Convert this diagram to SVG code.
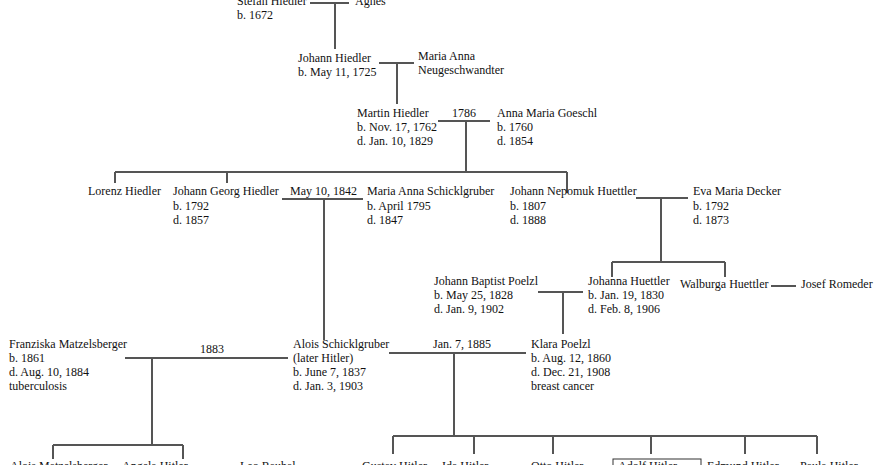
<svg xmlns="http://www.w3.org/2000/svg" width="887" height="465" viewBox="0 0 887 465">
<style>
text{font-family:"Liberation Serif","Times New Roman",serif;font-size:12px;fill:#111}
.c line{stroke:#555;stroke-width:2;fill:none}
.mid{text-anchor:middle}
</style>
<rect width="887" height="465" fill="#fff"/>
<g class="c" id="connectors">
<line x1="310" y1="3" x2="349" y2="3"/><line x1="335" y1="3" x2="335" y2="49"/>
<line x1="379" y1="63" x2="414" y2="63"/><line x1="397" y1="63" x2="397" y2="104"/>
<line x1="438" y1="121" x2="490" y2="121"/><line x1="466" y1="121" x2="466" y2="172"/>
<line x1="115" y1="172" x2="567" y2="172"/>
<line x1="115" y1="172" x2="115" y2="183"/><line x1="227" y1="172" x2="227" y2="183"/><line x1="567" y1="172" x2="567" y2="193"/>
<line x1="282" y1="199" x2="363" y2="199"/><line x1="324" y1="199" x2="324" y2="340"/>
<line x1="636" y1="198" x2="688" y2="198"/><line x1="661" y1="198" x2="661" y2="262"/>
<line x1="612" y1="262" x2="725" y2="262"/><line x1="612" y1="262" x2="612" y2="277"/><line x1="725" y1="262" x2="725" y2="277"/>
<line x1="771" y1="286" x2="796" y2="286"/>
<line x1="538" y1="292" x2="583" y2="292"/><line x1="563" y1="292" x2="563" y2="334"/>
<line x1="125" y1="358" x2="288" y2="358"/><line x1="152" y1="358" x2="152" y2="445"/>
<line x1="53" y1="445" x2="183" y2="445"/><line x1="53" y1="445" x2="53" y2="459"/><line x1="183" y1="445" x2="183" y2="459"/>
<line x1="389" y1="353" x2="526" y2="353"/><line x1="454" y1="353" x2="454" y2="436"/>
<line x1="393" y1="436" x2="817" y2="436"/>
<line x1="393" y1="436" x2="393" y2="454"/><line x1="474" y1="436" x2="474" y2="454"/><line x1="553" y1="436" x2="553" y2="454"/><line x1="651" y1="436" x2="651" y2="454"/><line x1="745" y1="436" x2="745" y2="454"/><line x1="817" y1="436" x2="817" y2="454"/>
</g>
<g id="labels">
<text x="464" y="117" class="mid">1786</text>
<text x="290" y="195">May 10, 1842</text>
<text x="212" y="353" class="mid">1883</text>
<text x="433" y="348">Jan. 7, 1885</text>
</g>
<g id="stefan"><text x="237" y="5">Stefan Hiedler</text><text x="237" y="19">b. 1672</text></g>
<g id="agnes"><text x="355" y="5">Agnes</text></g>
<g id="johann-hiedler"><text x="298" y="62">Johann Hiedler</text><text x="298" y="76">b. May 11, 1725</text></g>
<g id="maria-anna-n"><text x="418" y="60">Maria Anna</text><text x="418" y="74">Neugeschwandter</text></g>
<g id="martin"><text x="357" y="117">Martin Hiedler</text><text x="357" y="131">b. Nov. 17, 1762</text><text x="357" y="145">d. Jan. 10, 1829</text></g>
<g id="anna-maria"><text x="497" y="117">Anna Maria Goeschl</text><text x="497" y="131">b. 1760</text><text x="497" y="145">d. 1854</text></g>
<g id="lorenz"><text x="88" y="195">Lorenz Hiedler</text></g>
<g id="johann-georg"><text x="173" y="195">Johann Georg Hiedler</text><text x="173" y="210">b. 1792</text><text x="173" y="224">d. 1857</text></g>
<g id="maria-anna-s"><text x="367" y="195">Maria Anna Schicklgruber</text><text x="367" y="210">b. April 1795</text><text x="367" y="224">d. 1847</text></g>
<g id="nepomuk"><text x="510" y="195">Johann Nepomuk Huettler</text><text x="510" y="210">b. 1807</text><text x="510" y="224">d. 1888</text></g>
<g id="eva"><text x="693" y="195">Eva Maria Decker</text><text x="693" y="210">b. 1792</text><text x="693" y="224">d. 1873</text></g>
<g id="baptist"><text x="434" y="285">Johann Baptist Poelzl</text><text x="434" y="299">b. May 25, 1828</text><text x="434" y="313">d. Jan. 9, 1902</text></g>
<g id="johanna"><text x="588" y="285">Johanna Huettler</text><text x="588" y="299">b. Jan. 19, 1830</text><text x="588" y="313">d. Feb. 8, 1906</text></g>
<g id="walburga"><text x="680" y="288">Walburga Huettler</text></g>
<g id="josef"><text x="801" y="288">Josef Romeder</text></g>
<g id="franziska"><text x="9" y="348">Franziska Matzelsberger</text><text x="9" y="362">b. 1861</text><text x="9" y="376">d. Aug. 10, 1884</text><text x="9" y="390">tuberculosis</text></g>
<g id="alois"><text x="293" y="348">Alois Schicklgruber</text><text x="293" y="362">(later Hitler)</text><text x="293" y="376">b. June 7, 1837</text><text x="293" y="390">d. Jan. 3, 1903</text></g>
<g id="klara"><text x="531" y="348">Klara Poelzl</text><text x="531" y="362">b. Aug. 12, 1860</text><text x="531" y="376">d. Dec. 21, 1908</text><text x="531" y="390">breast cancer</text></g>
<g id="alois-m"><text x="10" y="470">Alois Matzelsberger</text></g>
<g id="angela"><text x="122" y="470">Angela Hitler</text></g>
<g id="leo"><text x="240" y="470">Leo Raubal</text></g>
<g id="gustav"><text x="362" y="470">Gustav Hitler</text></g>
<g id="ida"><text x="442" y="470">Ida Hitler</text></g>
<g id="otto"><text x="531" y="470">Otto Hitler</text></g>
<g id="adolf"><rect x="613" y="459" width="88" height="20" fill="none" stroke="#333" stroke-width="1"/><text x="618" y="470">Adolf Hitler</text></g>
<g id="edmund"><text x="707" y="470">Edmund Hitler</text></g>
<g id="paula"><text x="800" y="470">Paula Hitler</text></g>
</svg>
